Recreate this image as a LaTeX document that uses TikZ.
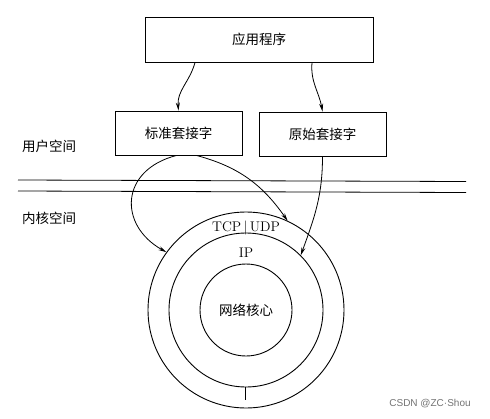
\documentclass[tikz,border=0pt]{standalone}
\usepackage{fontspec}
\newfontfamily\cjk{Noto Sans CJK SC}
\newfontfamily\wzfont{Liberation Sans}
\usetikzlibrary{arrows.meta}
\tikzset{
  kasten/.style={draw,line width=0.9pt,inner sep=0pt,font=\cjk\fontsize{13.5}{14}\selectfont},
  ring/.style={draw,circle,line width=0.9pt,inner sep=0pt},
  pfeil/.style={line width=0.8pt,-{Stealth[length=8pt,width=4pt]}},
  raum/.style={font=\cjk\fontsize{13.5}{14}\selectfont}
}
\begin{document}
\begin{tikzpicture}[x=1pt,y=-1pt]
\useasboundingbox (0,0) rectangle (490,418);
% Anwendung und Sockets
\node[kasten,minimum width=228pt,minimum height=45pt](APP) at (259,39.5){应用程序};
\node[kasten,minimum width=127pt,minimum height=44pt](STD) at (178.5,133){标准套接字};
\node[kasten,minimum width=127pt,minimum height=44pt](RAW) at (322.5,134){原始套接字};
\node[raum](USER) at (49,146){用户空间};
\node[raum,below of = USER,node distance=72pt](KERN){内核空间};
% Grenze
\coordinate(GA1) at (18,180);\coordinate(GE1) at (466,181.5);
\coordinate(GA2) at (18,191);\coordinate(GE2) at (466,192.5);
\draw[line width=0.8pt](GA1)--(GE1);
\draw[line width=0.8pt](GA2)--(GE2);
% Kern
\node[ring,minimum size=196pt](OUTER) at (246,310){};
\node[ring,minimum size=154pt](MID) at (246,310){};
\node[ring,minimum size=92pt,font=\cjk\fontsize{13.5}{14}\selectfont](INNER) at (246,310){网络核心};
\node[font=\fontsize{14}{15}\selectfont](TCP) at (246,228){TCP\,|\,UDP};
\node[font=\fontsize{14}{15}\selectfont](IP) at (246,253){IP};
\coordinate(TICKA) at (245,387);\coordinate(TICKE) at (245,400);
\draw[line width=0.7pt](TICKA)--(TICKE);
% Pfeile
\draw[pfeil]([xshift=-64pt]APP.south) to[out=-105,in=95] (STD.north);
\draw[pfeil]([xshift=53pt]APP.south) to[out=-95,in=100] (RAW.north);
\draw[pfeil]([xshift=-2pt]STD.south) .. controls (120,170) and (118,225) .. (OUTER.144);
\draw[pfeil]([xshift=18pt]STD.south) to[out=-15,in=125] (OUTER.65);
\draw[pfeil](RAW.south) to[out=-90,in=70] (MID.45);
\node[text=black!55,font=\wzfont\fontsize{10}{11}\selectfont](CSDN) at (430,404){CSDN @ZC·Shou};
\end{tikzpicture}
\end{document}
